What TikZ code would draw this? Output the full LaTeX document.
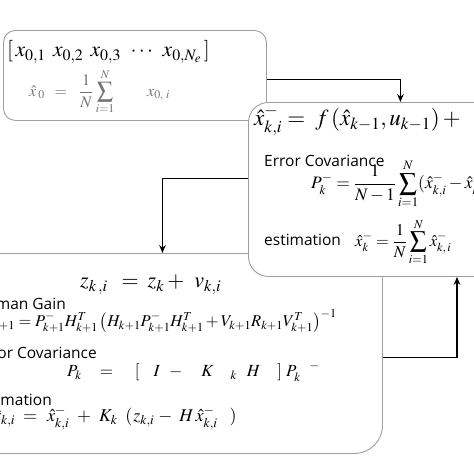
\documentclass[tikz,border=0pt]{standalone}
\usepackage{mathptmx}
\usepackage[no-math]{fontspec}
\newfontfamily\lblfont{Open Sans}
\usepackage{tikz}
\usetikzlibrary{calc, positioning}
\usetikzlibrary{arrows.meta}

\tikzset{
  stagebox/.style={draw=gray!75, line width=0.9pt, fill=white, inner sep=0pt},
  lbl/.style={font=\lblfont\fontsize{15.5}{18}\selectfont, inner sep=0pt},
  eqn/.style={inner sep=0pt},
  flow/.style={-{Stealth[scale=0.9,angle'=45]}, line width=1.3pt},
}

\begin{document}
\begin{tikzpicture}[x=1pt,y=-1pt]
\useasboundingbox (0,0) rectangle (474,474);
\clip (0,0) rectangle (474,474);

\coordinate (cInit) at (3,30);
\coordinate (cUpd) at (-58,253);
\coordinate (cPred) at (248,102);
\coordinate (cRet) at (457,0);

\node[stagebox, rounded corners=12pt, minimum width=263pt, minimum height=90pt, anchor=north west] (nInit) at (cInit) {};
\node[stagebox, rounded corners=28pt, minimum width=440pt, minimum height=200pt, anchor=north west] (nUpdate) at (cUpd) {};
\node[stagebox, rounded corners=20pt, minimum width=304pt, minimum height=174pt, anchor=north west] (nPredict) at (cPred) {};

\draw[flow] ([yshift=-4pt]nInit.east) -| (nPredict.north);
\draw[flow] ([yshift=11pt]nPredict.west) -| (nUpdate.north);
\draw[flow] ([yshift=-4pt]nUpdate.east) -| (nPredict.south -| cRet);

% initial ensemble
\node[eqn, anchor=west, font=\fontsize{21.5}{24}\selectfont] (nInitVec) at (7,52)
  {$[\,x_{0,1}\;\, x_{0,2}\;\, x_{0,3}\;\, \cdots\;\, x_{0,N_e}\,]$};
\node[eqn, anchor=west, text=gray!90!black, font=\fontsize{16}{18}\selectfont] (nInitMean) at (29,92)
  {$\hat{x}_{\hspace{2pt}0}\hspace{10pt}{=}\hspace{12pt}\displaystyle\frac{1}{N}\hspace{1pt}\sum_{i=1}^{N}\hspace{31pt}x_{0,\;i}$};

% forecast
\node[eqn, anchor=west, font=\fontsize{23}{26}\selectfont] (nPredState) at (254,121)
  {$\hat{x}^-_{k,i}\;{=}\;\; f\,(\hat{x}_{k-1}, u_{k-1}) + \hspace{14pt} w_{k-1}$};
\node[eqn, anchor=west, font=\fontsize{17.5}{20}\selectfont] (nPredCov) at (311,184)
  {$\displaystyle P^-_k = \frac{1}{N-1}\sum_{i=1}^{N}(\hat{x}^-_{k,i}-\hat{x}^-_k)(\hat{x}^-_{k,i}-\hat{x}^-_k)^T$};
\node[eqn, anchor=west, font=\fontsize{16.5}{19}\selectfont] (nPredEst) at (355,242)
  {$\displaystyle \hat{x}^-_k = \frac{1}{N}\sum_{i=1}^{N}\hat{x}^-_{k,\,i}$};

% analysis
\node[eqn, anchor=west, font=\fontsize{22}{25}\selectfont] (nMeas) at (80,285)
  {$z_{k\,,i}\hspace{14pt}{=}\hspace{9pt}z_k\hspace{3pt}{+}\hspace{10pt}v_{k,i}$};
\node[eqn, anchor=east, font=\fontsize{16.5}{19}\selectfont] (nGain) at (337,321)
  {$K_{k+1} = P^-_{k+1}H^T_{k+1}\left(H_{k+1}P^-_{k+1}H^T_{k+1} + V_{k+1}R_{k+1}V^T_{k+1}\right)^{-1}$};
\node[eqn, anchor=west, font=\fontsize{17}{20}\selectfont] (nUpdCov) at (67,372)
  {$P_{k}\hspace{18pt}{=}\hspace{22pt}[\hspace{14pt}I\hspace{9pt}{-}\hspace{19pt}K\hspace{17pt}{}_{k}\hspace{10pt}H\hspace{17pt}]\hspace{4pt}P_{k}^{\hspace{13pt}-}$};
\node[eqn, anchor=west, font=\fontsize{18}{21}\selectfont] (nUpdEst) at (23,418)
  {$\llap{$\hat{x}_{k,i}$\hspace{8pt}}{=}\hspace{10pt}\hat{x}^-_{k,i}\hspace{8pt}{+}\hspace{8pt}K_{k}\hspace{8pt}(\hspace{1pt}z_{k,i}\hspace{4pt}{-}\hspace{7pt}H\hspace{2pt}\hat{x}^-_{k,i}\hspace{12pt})$};

\coordinate (cPredCovLbl) at (264,161);
\coordinate (cPredEstLbl) at (264,240);
\coordinate (cGainLbl) at (66,304);
\coordinate (cUpdCovLbl) at (97,353);
\coordinate (cUpdEstLbl) at (52,400);

\foreach \v/\u/\t in
{   PredCovLbl/west/Error Covariance,
    PredEstLbl/west/estimation,
    GainLbl/east/Kalman Gain,
    UpdCovLbl/east/Error Covariance,
    UpdEstLbl/east/Estimation
}
{
    \node[lbl, anchor=\u] (n\v) at (c\v) {\t};
};

\end{tikzpicture}
\end{document}
